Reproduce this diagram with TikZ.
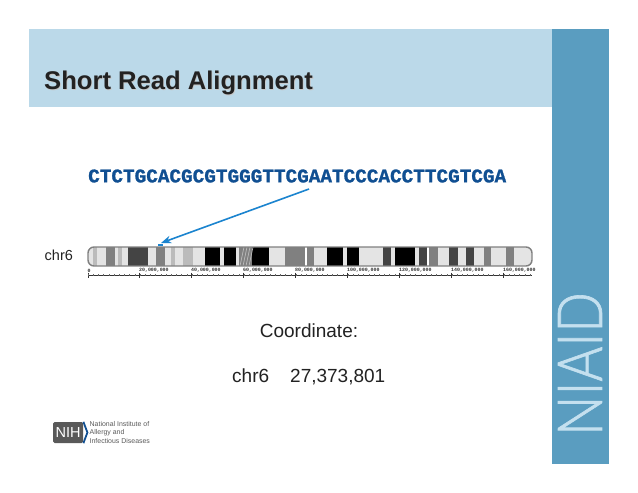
\documentclass[tikz,border=0pt]{standalone}
\usepackage{fontspec}
\setmainfont{Liberation Sans}
\newfontfamily\seqfont[FakeBold=1.2]{Liberation Mono Bold}
\newfontfamily\tickfont{Liberation Mono}
\newfontfamily\niaidfont[FakeBold=1.2]{Lato Light}
\usetikzlibrary{arrows.meta}
\usetikzlibrary{positioning}
\definecolor{headblue}{HTML}{BBD9E9}
\definecolor{sideblue}{HTML}{5A9DC0}
\definecolor{logoblue}{HTML}{C4E0EF}
\definecolor{seqblue}{HTML}{104F92}
\definecolor{arrowblue}{HTML}{1B84CF}
\definecolor{inkgray}{HTML}{222222}
\definecolor{bandlight}{HTML}{E4E4E4}
\definecolor{bandmid}{HTML}{BBBBBB}
\definecolor{bandgray}{HTML}{808080}
\definecolor{banddark}{HTML}{444444}
\tikzset{
	body/.style={text=inkgray, inner sep=0pt, font=\fontsize{19}{22}\selectfont},
	tick/.style={inner sep=0pt, anchor=west, text=black!80, font=\tickfont\bfseries\fontsize{4.9}{5}\selectfont},
	nihtext/.style={inner sep=0pt, anchor=west, text=black!65, font=\fontsize{6.95}{7}\selectfont},
}

\begin{document}
\begin{tikzpicture}[x=1pt,y=-1pt,>=Stealth]
	\useasboundingbox (0,0) rectangle (638,493);
	\fill[white] (0,0) rectangle (638,493);
	\fill[headblue] (29,29) rectangle (552,107);
	\fill[sideblue] (552,29) rectangle (609,464);

	\node[inner sep=0pt, anchor=west, text=black!22] (titleshadow) at (44.8,84) {\fontsize{25.6}{28}\selectfont\bfseries Short Read Alignment};
	\node[inner sep=0pt, anchor=west, text=inkgray] (title) at (44,83) {\fontsize{25.6}{28}\selectfont\bfseries Short Read Alignment};
	\node[inner sep=0pt, anchor=west, text=seqblue] (seq) at (88,176) {\seqfont\fontsize{19.35}{22}\selectfont CTCTGCACGCGTGGGTTCGAATCCCACCTTCGTCGA};
	\node[inner sep=0pt, anchor=west, text=inkgray] (chrname) at (44.5,255) {\fontsize{14.5}{16}\selectfont chr6};

	% chromosome bands
	\begin{scope}
		\clip[rounded corners=6pt] (88,247) rectangle (532,266);
		\fill[bandlight] (88,247) rectangle (532,266);
		\foreach \xa/\xb/\bandcol in {
			93/97/bandmid, 106/115/bandgray, 118/122/bandmid,
			128/148/banddark, 156/165/bandgray, 171/175/bandmid, 183/193/bandmid,
			205/220/black, 224/236/black, 239/252/bandgray, 252/269/black,
			285/305/bandgray, 305/307/white, 307/314/bandgray, 327/343/black,
			347/359/black, 383/391/banddark, 395/415/black, 419/427/banddark,
			427/429/white, 429/438/bandgray, 449/458/banddark, 466/474/banddark,
			484/491/bandgray, 506/514/bandgray}
			\fill[\bandcol] (\xa,247) rectangle (\xb,266);
		\foreach \xa in {240,243,246,249}
			\draw[bandmid, line width=0.7pt] (\xa,266) -- (\xa+4,247);
	\end{scope}
	\node[draw=bandgray, line width=1.4pt, rounded corners=6pt, inner sep=0pt, minimum width=444pt, minimum height=19pt] (chr) at (310,256.5) {};

	% ruler
	\coordinate (rulerA) at (88,275);
	\coordinate (rulerB) at (532,275);
	\draw[black!80, line width=0.8pt] (rulerA) -- (rulerB);
	\foreach \xa/\ticktext in {88/0, 139.5/{20,000,000}, 191.5/{40,000,000}, 243.5/{60,000,000}, 295.5/{80,000,000}, 347.5/{100,000,000}, 399.5/{120,000,000}, 451.5/{140,000,000}, 503.5/{160,000,000}}{
		\node[tick] at (\xa-0.5,270.5) {\ticktext};
		\draw[black!80, line width=0.7pt] (\xa,272.5) -- (\xa,277.5);
	}
	\foreach \xa in {0,...,85}
		\draw[black!60, line width=0.3pt] (88+\xa*5.2,274) -- (88+\xa*5.2,276);

	% read and arrow
	\coordinate (readtail) at (309,189);
	\coordinate (readhead) at (161,243);
	\draw[->, arrowblue, line width=1.6pt] (readtail) to (readhead);
	\fill[arrowblue] (158,244) rectangle (162.5,245.5);

	\node[body, anchor=center] (coordlabel) at (309,331) {Coordinate:};
	\node[body, anchor=base west] (coordchr) at (232,382.5) {chr6};
	\node[body, anchor=base west] (coordnum) at (290,382.5) {27,373,801};

	% logos
	\node[inner sep=0pt, text=logoblue, rotate=90] (niaid) at (580,364) {\scalebox{0.86}[1]{\niaidfont\fontsize{62}{62}\selectfont NIAID}};
	\node[fill=black!65, rounded corners=1.5pt, text=white, inner sep=0pt, minimum width=30pt, minimum height=21pt, anchor=west] (nih) at (53,432.5) {\fontsize{14.5}{15}\selectfont NIH};
	\node[nihtext] (nihA) at (89.5,424.5) {National Institute of};
	\node[nihtext] (nihB) at (89.5,432.5) {Allergy and};
	\node[nihtext] (nihC) at (89.5,441) {Infectious Diseases};
	\draw[seqblue, line width=1.8pt] (nih.north east) -- ([xshift=4pt]nih.east) -- (nih.south east);
\end{tikzpicture}
\end{document}
